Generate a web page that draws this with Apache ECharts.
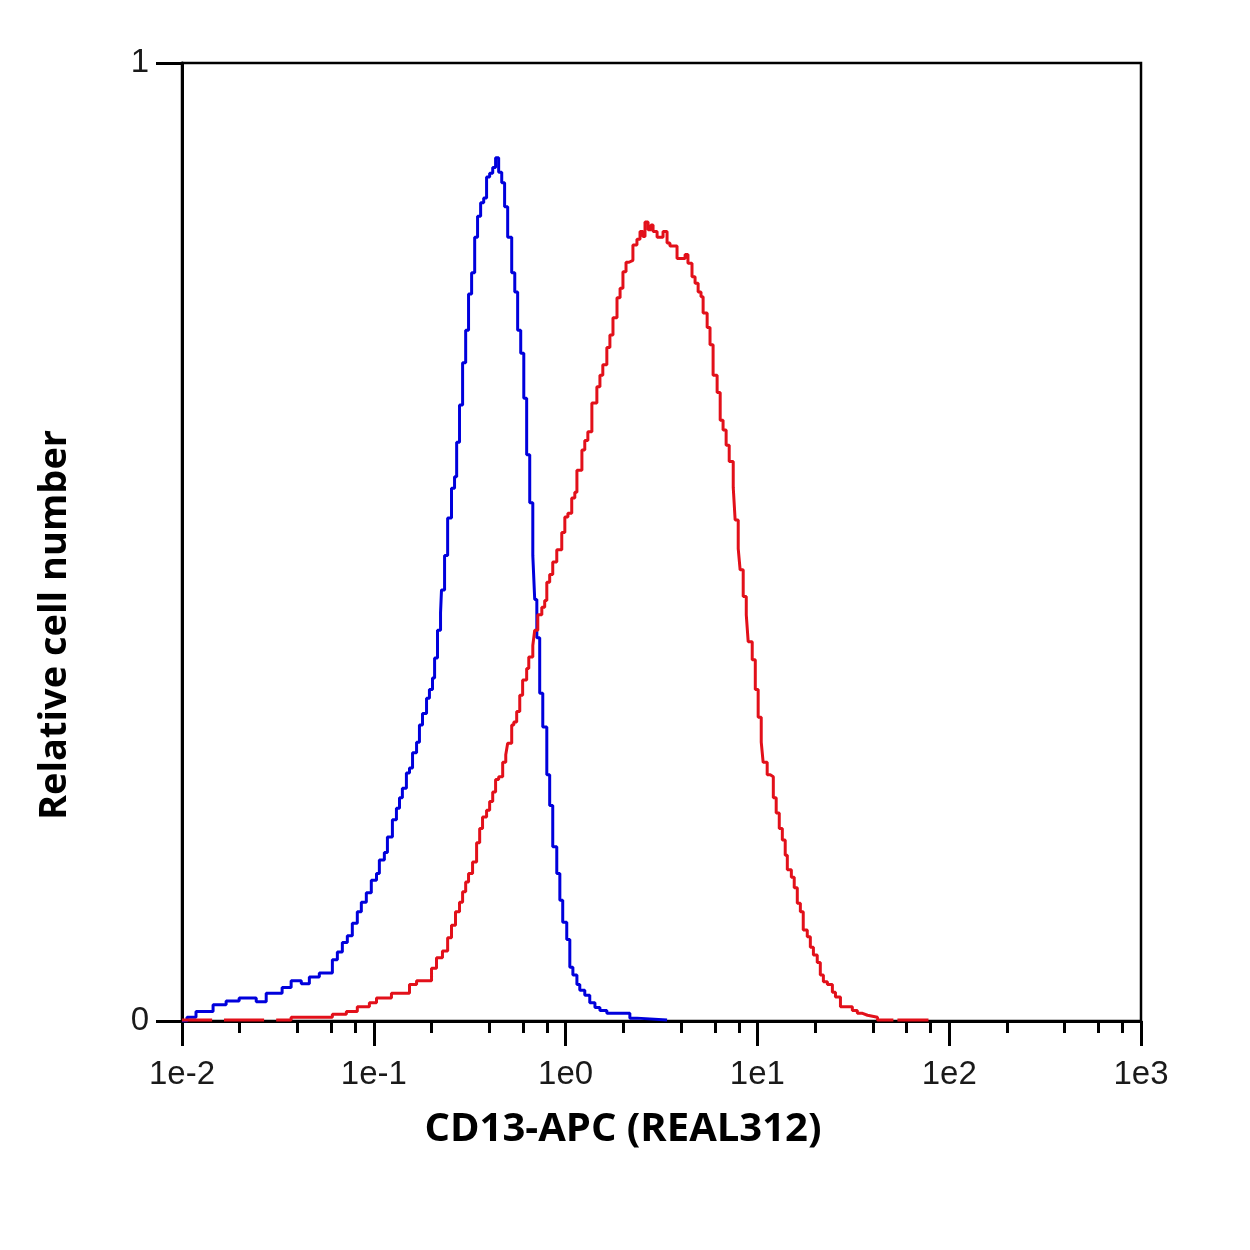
<!DOCTYPE html>
<html>
<head>
<meta charset="utf-8">
<script src="https://cdn.jsdelivr.net/npm/echarts@6/dist/echarts.min.js"></script>
<style>
  html, body { margin: 0; padding: 0; background: #fff; }
  #chart { width: 1250px; height: 1250px; }
</style>
</head>
<body>
<div id="chart"></div>
<script>
// x values are log10 of intensity (1e-2 .. 1e3), y is relative cell number
var decadeTicks = [-2, -1, 0, 1, 2, 3];
var minorFactors = [2, 4, 6, 8];

var blueX = [-2.000, -1.974, -1.927, -1.838, -1.770, -1.702, -1.613, -1.561, -1.478, -1.431,
  -1.378, -1.336, -1.284, -1.216, -1.190, -1.164, -1.138, -1.112, -1.086, -1.065,
  -1.039, -1.013, -0.986, -0.971, -0.945, -0.929, -0.903, -0.882, -0.866, -0.851,
  -0.830, -0.814, -0.798, -0.777, -0.762, -0.746, -0.725, -0.710, -0.694, -0.683,
  -0.668, -0.652, -0.647, -0.631, -0.615, -0.595, -0.579, -0.568, -0.553, -0.537,
  -0.521, -0.506, -0.490, -0.474, -0.459, -0.443, -0.427, -0.412, -0.396, -0.380,
  -0.365, -0.349, -0.333, -0.318, -0.302, -0.281, -0.265, -0.250, -0.234, -0.218,
  -0.203, -0.187, -0.171, -0.161, -0.150, -0.135, -0.119, -0.098, -0.083, -0.067,
  -0.046, -0.030, -0.015, 0.006, 0.022, 0.038, 0.059, 0.074, 0.100, 0.126,
  0.153, 0.179, 0.215, 0.335, 0.372, 0.529];
var blueY = [0.000, 0.004, 0.010, 0.017, 0.021, 0.024, 0.020, 0.029, 0.035, 0.042,
  0.039, 0.046, 0.050, 0.064, 0.072, 0.082, 0.089, 0.102, 0.114, 0.124,
  0.134, 0.147, 0.154, 0.168, 0.176, 0.192, 0.210, 0.222, 0.233, 0.243,
  0.259, 0.264, 0.280, 0.291, 0.309, 0.321, 0.337, 0.346, 0.358, 0.379,
  0.408, 0.426, 0.450, 0.486, 0.525, 0.556, 0.568, 0.604, 0.643, 0.687,
  0.721, 0.759, 0.781, 0.818, 0.840, 0.854, 0.859, 0.881, 0.885, 0.891,
  0.901, 0.886, 0.875, 0.850, 0.818, 0.781, 0.761, 0.721, 0.697, 0.650,
  0.591, 0.541, 0.486, 0.440, 0.400, 0.342, 0.307, 0.257, 0.225, 0.182,
  0.154, 0.126, 0.103, 0.085, 0.056, 0.048, 0.038, 0.032, 0.027, 0.019,
  0.014, 0.011, 0.008, 0.003, 0.001, 0.001];

var redX = [-2.000, -1.843, -1.840, -1.781, -1.572, -1.570, -1.509, -1.431, -1.216, -1.143,
  -1.086, -1.023, -0.986, -0.908, -0.814, -0.777, -0.699, -0.673, -0.642, -0.615,
  -0.595, -0.574, -0.553, -0.537, -0.521, -0.506, -0.485, -0.464, -0.448, -0.433,
  -0.412, -0.396, -0.380, -0.365, -0.349, -0.328, -0.312, -0.302, -0.281, -0.270,
  -0.255, -0.239, -0.224, -0.203, -0.192, -0.171, -0.161, -0.145, -0.124, -0.109,
  -0.098, -0.083, -0.067, -0.046, -0.020, -0.004, 0.012, 0.032, 0.048, 0.059,
  0.085, 0.100, 0.116, 0.137, 0.163, 0.179, 0.194, 0.215, 0.231, 0.247,
  0.268, 0.284, 0.299, 0.315, 0.331, 0.351, 0.372, 0.388, 0.403, 0.414,
  0.430, 0.445, 0.456, 0.477, 0.492, 0.508, 0.529, 0.544, 0.560, 0.581,
  0.602, 0.623, 0.638, 0.659, 0.675, 0.691, 0.706, 0.717, 0.738, 0.753,
  0.769, 0.790, 0.806, 0.821, 0.837, 0.853, 0.874, 0.884, 0.900, 0.910,
  0.926, 0.942, 0.952, 0.973, 0.989, 1.004, 1.020, 1.030, 1.051, 1.067,
  1.083, 1.098, 1.114, 1.130, 1.145, 1.156, 1.177, 1.192, 1.208, 1.224,
  1.239, 1.260, 1.276, 1.292, 1.312, 1.328, 1.344, 1.365, 1.391, 1.407,
  1.433, 1.495, 1.521, 1.548, 1.574, 1.626, 1.709, 1.712, 1.730, 1.892];
var redY = [0.001, 0.001, null, 0.001, 0.001, null, 0.001, 0.004, 0.007, 0.010,
  0.015, 0.019, 0.024, 0.029, 0.038, 0.042, 0.055, 0.066, 0.073, 0.087,
  0.100, 0.114, 0.124, 0.135, 0.145, 0.154, 0.166, 0.186, 0.201, 0.213,
  0.220, 0.229, 0.239, 0.252, 0.255, 0.270, 0.278, 0.290, 0.309, 0.312,
  0.323, 0.340, 0.356, 0.368, 0.380, 0.392, 0.408, 0.424, 0.432, 0.439,
  0.458, 0.466, 0.479, 0.492, 0.510, 0.526, 0.530, 0.546, 0.552, 0.575,
  0.596, 0.606, 0.615, 0.645, 0.662, 0.674, 0.685, 0.703, 0.716, 0.734,
  0.755, 0.765, 0.782, 0.792, 0.794, 0.810, 0.816, 0.824, 0.819, 0.834,
  0.826, 0.831, 0.824, 0.818, 0.818, 0.824, 0.812, 0.809, 0.809, 0.796,
  0.796, 0.800, 0.791, 0.777, 0.770, 0.761, 0.756, 0.739, 0.724, 0.706,
  0.674, 0.656, 0.627, 0.617, 0.601, 0.584, 0.557, 0.523, 0.493, 0.471,
  0.443, 0.424, 0.396, 0.377, 0.346, 0.317, 0.291, 0.270, 0.257, 0.255,
  0.233, 0.217, 0.201, 0.189, 0.173, 0.158, 0.150, 0.139, 0.123, 0.114,
  0.095, 0.088, 0.077, 0.069, 0.061, 0.048, 0.041, 0.038, 0.030, 0.025,
  0.015, 0.011, 0.008, 0.006, 0.004, 0.001, 0.001, null, 0.001, 0.001];

var minorTicks = [];
decadeTicks.slice(0, -1).forEach(function (d) {
  minorFactors.forEach(function (f) { minorTicks.push(d + Math.log10(f)); });
});

function pairs(xs, ys) {
  return xs.map(function (x, i) { return [x, ys[i]]; });
}

var tickFont = '"Liberation Sans", Arial, sans-serif';
var titleFont = '"Open Sans", "Noto Sans", sans-serif';

var chart = echarts.init(document.getElementById('chart'));
chart.setOption({
  backgroundColor: '#fff',
  animation: false,
  grid: {
    left: 182, right: 109, top: 63, bottom: 229,
    show: true, borderColor: '#000', borderWidth: 2.5, backgroundColor: 'transparent'
  },
  xAxis: [{
    type: 'value', min: -2, max: 3, interval: 1,
    axisLine: { onZero: false, lineStyle: { color: '#000', width: 3 } },
    axisTick: { length: 25, lineStyle: { color: '#000', width: 3 } },
    axisLabel: {
      margin: 37, fontSize: 33, color: '#1a1a1a', fontFamily: tickFont,
      formatter: function (v) { return '1e' + v; }
    },
    splitLine: { show: false }
  }, {
    type: 'value', min: -2, max: 3, position: 'bottom',
    axisLine: { show: false },
    axisTick: { show: true, length: 12, customValues: minorTicks, lineStyle: { color: '#000', width: 3 } },
    axisLabel: { show: false },
    splitLine: { show: false }
  }],
  yAxis: {
    type: 'value', min: 0, max: 1, interval: 1,
    axisLine: { show: true, onZero: false, lineStyle: { color: '#000', width: 3 } },
    axisTick: { show: true, length: 26, lineStyle: { color: '#000', width: 3 } },
    axisLabel: { margin: 33, fontSize: 33, color: '#1a1a1a', fontFamily: tickFont },
    splitLine: { show: false }
  },
  graphic: [{
    type: 'text', x: 623, y: 1130,
    style: { text: 'CD13-APC (REAL312)', x: 0, y: 0, align: 'center', verticalAlign: 'middle',
      font: 'bold 40px ' + titleFont, fill: '#000' }
  }, {
    type: 'text', x: 55, y: 625, rotation: Math.PI / 2,
    style: { text: 'Relative cell number', x: 0, y: 0, align: 'center', verticalAlign: 'middle',
      font: 'bold 38px ' + titleFont, fill: '#000' }
  }],
  series: [{
    type: 'line', step: 'end', showSymbol: false, xAxisIndex: 0,
    data: pairs(blueX, blueY),
    lineStyle: { color: '#0000dc', width: 3 }
  }, {
    type: 'line', step: 'end', showSymbol: false, xAxisIndex: 0, connectNulls: false,
    data: pairs(redX, redY),
    lineStyle: { color: '#e2101a', width: 3 }
  }]
});
</script>
</body>
</html>
